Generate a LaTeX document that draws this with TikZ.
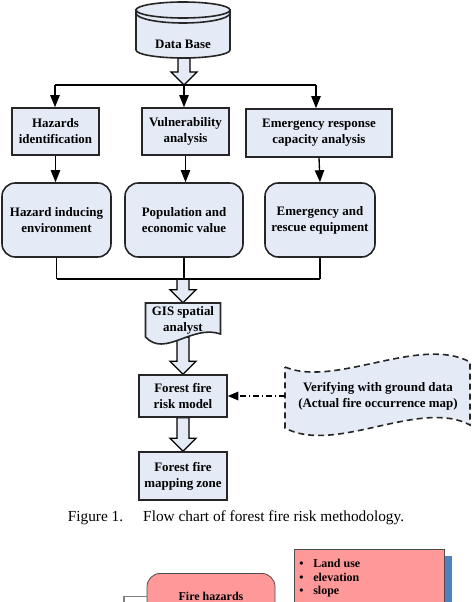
\documentclass[tikz,border=0pt]{standalone}
\usepackage{fontspec}
\setmainfont{Liberation Serif}
\usetikzlibrary{arrows.meta,calc}
\pgfdeclarelayer{bg}
\pgfsetlayers{bg,main}
\definecolor{boxfill}{RGB}{228,235,246}
\definecolor{pinkfill}{RGB}{255,153,153}
\definecolor{shadowblue}{RGB}{79,129,189}
\newcommand\blkarrow[2]{%
  \draw[blk] let \p1=(#1), \p2=(#2) in
    (\x2-4.5pt,\y1) -- (\x2-4.5pt,\y2+9.75pt) -- (\x2-9.75pt,\y2+9.75pt) -- (\x2,\y2)
    -- (\x2+9.75pt,\y2+9.75pt) -- (\x2+4.5pt,\y2+9.75pt) -- (\x2+4.5pt,\y1) -- cycle;}
\begin{document}
\begin{tikzpicture}[x=0.75pt,y=-0.75pt,
  txt/.style={font=\bfseries\fontsize{9.7}{12}\selectfont, align=center, inner sep=0pt},
  box/.style={txt, draw=black!85, line width=1.2pt, fill=boxfill},
  rbox/.style={box, rounded corners=10pt},
  conn/.style={line width=1pt, draw=black},
  arr/.style={conn, -{Triangle[length=9pt,width=7pt]}},
  dda/.style={line width=1pt, dash pattern=on 4.5pt off 2.2pt on 1pt off 2.2pt, -{Triangle[length=8pt,width=6.5pt]}},
  blk/.style={draw=black, line width=1pt, fill=boxfill},
  shp/.style={draw=black!85, line width=1.2pt, fill=boxfill},
  pinkbox/.style={draw=black!70, line width=0.6pt, fill=pinkfill},
  small/.style={font=\bfseries\fontsize{9}{11}\selectfont, inner sep=0pt}]
\useasboundingbox (0,0) rectangle (474,602);
\clip (0,0) rectangle (474,602);

% cylinder
\filldraw[shp] (136,10) -- (136,50) arc[start angle=180, end angle=360, x radius=35.25pt, y radius=6pt] -- (230,10) -- cycle;
\filldraw[shp] (183,10) ellipse [x radius=35.25pt, y radius=6pt];
\draw[line width=1.2pt, black!85] (136,13) arc[start angle=180, end angle=360, x radius=35.25pt, y radius=7.5pt];
\node[txt, minimum width=70.5pt, minimum height=21pt] (db) at (183,44) {Data Base};

% junctions
\coordinate (j1) at (55,85);
\coordinate (jm) at (184,85);
\coordinate (j3) at (316,85);
\coordinate (kb) at (184,279);

% row 1
\node[box, minimum width=65.25pt, minimum height=35.25pt] (haz) at (55.5,131.5) {Hazards\\identification};
\node[box, minimum width=65.25pt, minimum height=35.25pt] (vul) at (185.5,131.5) {Vulnerability\\analysis};
\node[box, minimum width=109.5pt, minimum height=36pt] (emr) at (319,133) {Emergency response\\capacity analysis};

% row 2
\node[rbox, minimum width=81.75pt, minimum height=55.5pt] (hie) at (56.5,220) {Hazard inducing\\environment};
\node[rbox, minimum width=88.5pt, minimum height=55.5pt] (pop) at (184,220) {Population and\\economic value};
\node[rbox, minimum width=82.5pt, minimum height=55.5pt] (ere) at (320,220) {Emergency and\\rescue equipment};

% central column
\node[txt, minimum width=56.25pt, minimum height=25.5pt] (gis) at (183,320) {GIS spatial\\analyst};
\node[box, minimum width=66pt, minimum height=31.5pt] (risk) at (183,396) {Forest fire\\risk model};
\node[box, minimum width=66pt, minimum height=36pt] (map) at (183,476) {Forest fire\\mapping zone};
\node[txt, minimum width=138.75pt, minimum height=45pt] (ver) at (378,396) {Verifying with ground data\\(Actual fire occurrence map)};

% block arrows (behind)
\begin{pgfonlayer}{bg}
\blkarrow{db.south}{jm}
\blkarrow{kb}{gis.north}
\blkarrow{gis.south}{risk.north}
\blkarrow{risk.south}{map.north}
\end{pgfonlayer}

% GIS document shape
\begin{pgfonlayer}{bg}
\filldraw[shp] (145.5,303) -- (220.5,303) -- (220.5,334) .. controls (192,324) and (165,358) .. (145.5,337) -- cycle;
\end{pgfonlayer}

% verifying wavy shape
\begin{pgfonlayer}{bg}
\filldraw[shp, dash pattern=on 4.5pt off 3pt] (285,367) .. controls (335,388) and (420,335) .. (470,362) -- (470,425) .. controls (420,398) and (335,455) .. (285,428) -- cycle;
\end{pgfonlayer}

% connectors
\draw[conn] (j1) -- (j3);
\draw[arr] (j1) -- (j1 |- haz.north);
\draw[arr] (jm) -- (jm |- vul.north);
\draw[arr] (j3) -- (j3 |- emr.north);
\draw[arr] (haz.south) -- (haz.south |- hie.north);
\draw[arr] (vul.south) -- (vul.south |- pop.north);
\draw[arr] (emr.south) -- (ere.north);
\draw[conn] (hie.south) -- (hie.south |- kb);
\draw[conn] (pop.south) -- (kb);
\draw[conn] (ere.south) -- (ere.south |- kb);
\draw[conn] (hie.south |- kb) -- (ere.south |- kb);
\draw[dda] (ver.west) -- (risk.east);

% caption
\node[font=\fontsize{11.5}{14}\selectfont, inner sep=0pt] (cap) at (236,518) {Figure 1.\hspace{15pt}Flow chart of forest fire risk methodology.};

% bottom partial figure
\fill[shadowblue] (444,556) rectangle (452,612);
\draw[pinkbox] (294,549) rectangle (444,612);
\node[small, anchor=west] (bl1) at (299,563) {\makebox[10.5pt][l]{\textbullet}Land use};
\node[small, anchor=west] (bl2) at (299,577.5) {\makebox[10.5pt][l]{\textbullet}elevation};
\node[small, anchor=west] (bl3) at (299,592) {\makebox[10.5pt][l]{\textbullet}slope};
\node[pinkbox, small, rounded corners=10pt, anchor=north, minimum width=96pt, minimum height=34pt] (fh) at (211,573) {Fire hazards};
\coordinate (c0) at (124,612);
\draw[black!50, line width=0.8pt] (c0) |- (fh.west);
\end{tikzpicture}
\end{document}
